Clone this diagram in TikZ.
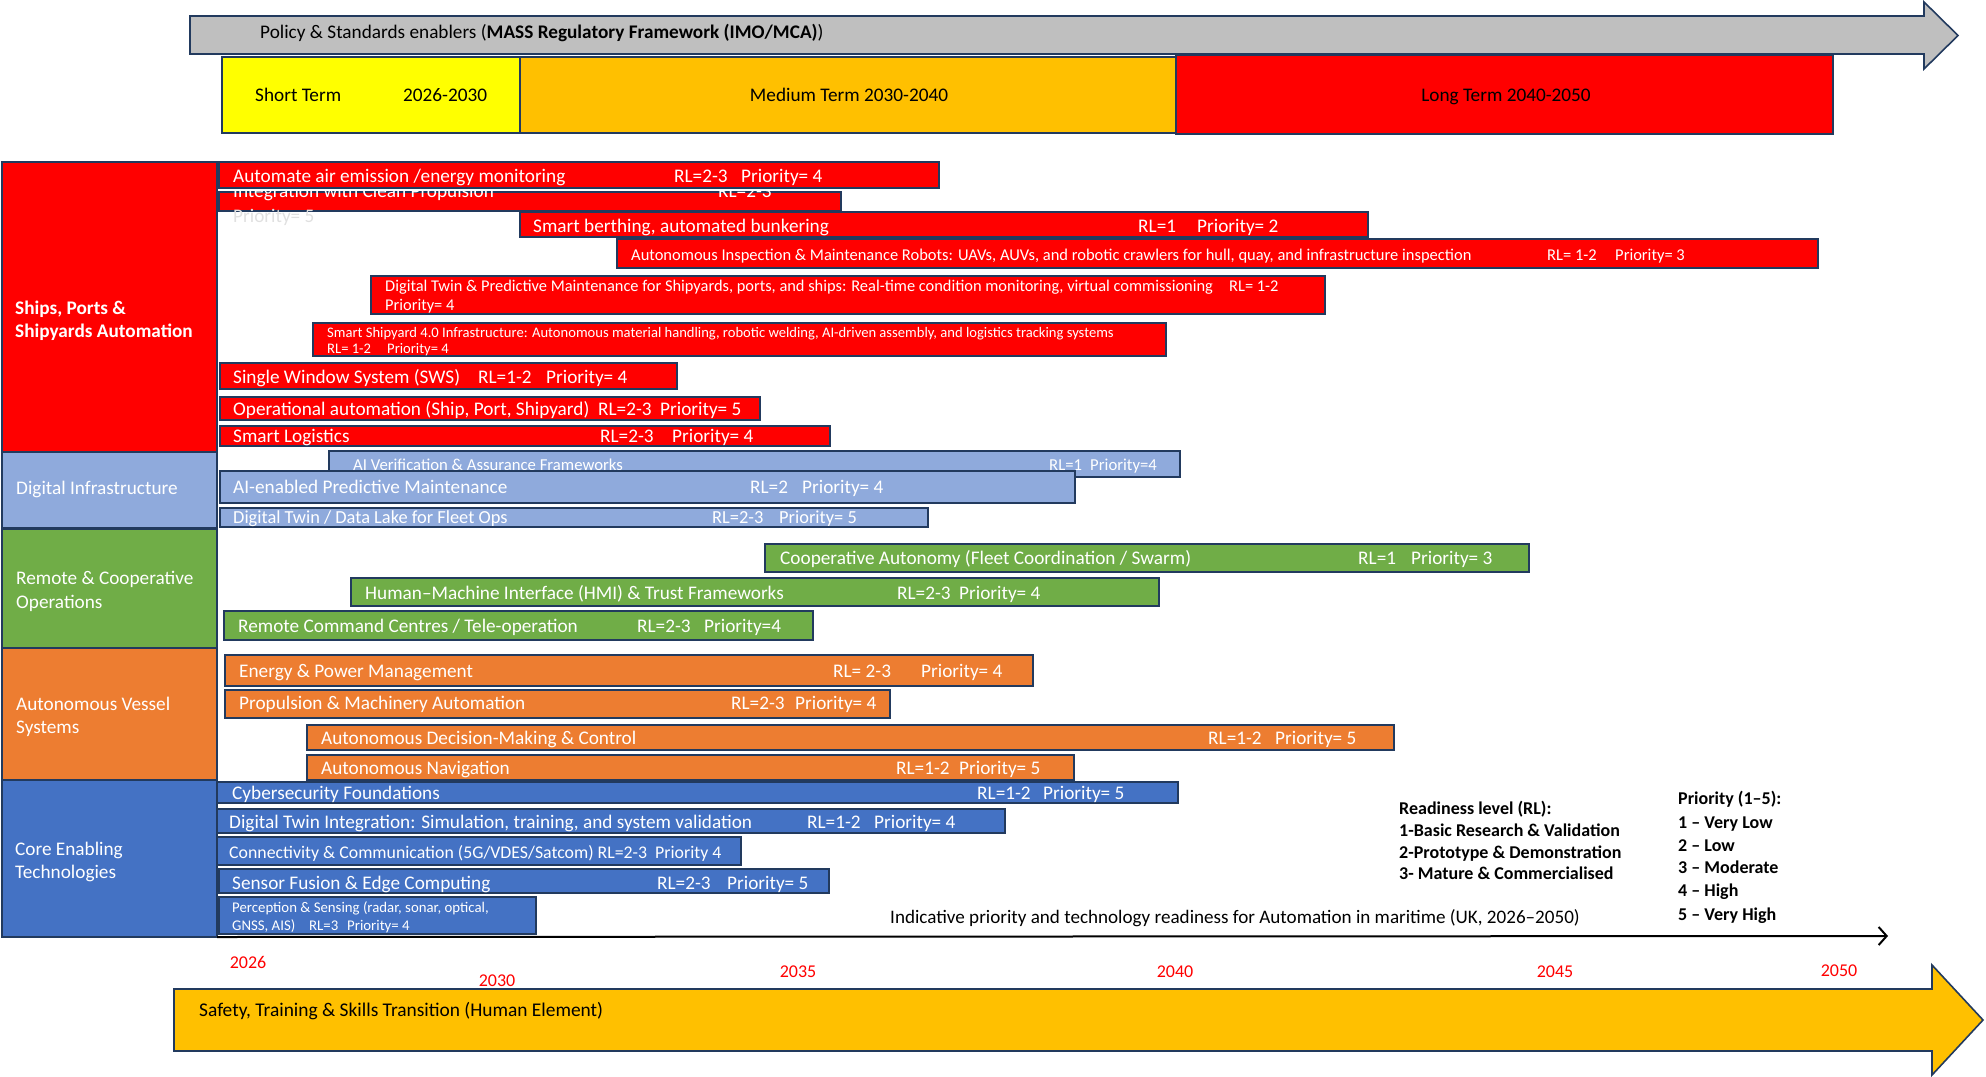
\documentclass[tikz,border=0pt]{standalone}
\usepackage{fontspec}
\setmainfont{Carlito}
\usetikzlibrary{arrows.meta}
\definecolor{navy}{HTML}{223A5E}
\definecolor{cred}{HTML}{FF0000}
\definecolor{clblue}{HTML}{8FAADC}
\definecolor{cgreen}{HTML}{70AD47}
\definecolor{corange}{HTML}{ED7D31}
\definecolor{cblue}{HTML}{4472C4}
\definecolor{cgold}{HTML}{FFC000}
\definecolor{cyellow}{HTML}{FFFF00}
\definecolor{cgray}{HTML}{BFBFBF}
\definecolor{cyear}{HTML}{FF0000}
\newcommand\myfs[1]{\fontsize{#1}{#1}\selectfont}
\tikzset{
  bar/.style={draw=navy, line width=1.6pt},
  tw/.style={text=white, anchor=base west, inner sep=0pt, font=\myfs{19.25}},
  tk/.style={text=black, anchor=base west, inner sep=0pt, font=\myfs{19.25}},
  lbl/.style={text=white, anchor=base west, inner sep=0pt, font=\myfs{19.25}},
  yr/.style={text=cyear, anchor=base, inner sep=0pt, font=\myfs{18}},
  leg/.style={text=black, anchor=base west, inner sep=0pt, font=\myfs{18}\bfseries},
}
\begin{document}
\begin{tikzpicture}[x=1pt,y=-1pt]
\useasboundingbox (0,0) rectangle (1986,1076);

% top policy arrow
\draw[bar, fill=cgray, line join=miter] (190,16) -- (1924,16) -- (1924,2) -- (1958,35.5) -- (1924,69) -- (1924,54) -- (190,54) -- cycle;
\node[tk] (policy) at (260,38) {Policy \& Standards enablers (\textbf{MASS Regulatory Framework (IMO/MCA)})};

% periods
\draw[bar, fill=cyellow] (222,57) rectangle (520,133);
\draw[bar, fill=cgold] (520,57) rectangle (1176,133);
\draw[bar, fill=cred] (1176,55) rectangle (1833,134);
\node[tk] (st) at (255,101) {Short Term};
\node[tk] (st2) at (403,101) {2026-2030};
\node[tk, anchor=base] (mt) at (849,101) {Medium Term 2030-2040};
\node[tk, anchor=base] (lt) at (1506,101) {Long Term 2040-2050};

% category column
\draw[bar, fill=cred] (2,162) rectangle (217,452);
\draw[bar, fill=clblue] (2,452) rectangle (217,528);
\draw[bar, fill=cgreen] (2,529) rectangle (217,648);
\draw[bar, fill=corange] (2,648) rectangle (217,780);
\draw[bar, fill=cblue] (2,780) rectangle (217,937);
\node[lbl, font=\myfs{19.25}\bfseries] (c1a) at (15,314) {Ships, Ports \&};
\node[lbl, font=\myfs{19.25}\bfseries] (c1b) at (15,337) {Shipyards Automation};
\node[lbl] (c2) at (16,494) {Digital Infrastructure};
\node[lbl] (c3a) at (16,584) {Remote \& Cooperative};
\node[lbl] (c3b) at (16,608) {Operations};
\node[lbl] (c4a) at (16,710) {Autonomous Vessel};
\node[lbl] (c4b) at (16,733) {Systems};
\node[lbl] (c5a) at (15,855) {Core Enabling};
\node[lbl] (c5b) at (15,878) {Technologies};

% ---- Ships, ports & shipyards bars
\draw[bar, fill=cred] (219,192) rectangle (841,211);
\node[tw] (b2a) at (233,197) {Integration with Clean Propulsion};
\node[tw] (b2b) at (718,197) {RL=2-3};
\node[tw, text=black!12] (b2c) at (233,222) {Priority= 5};
\draw[bar, fill=cred] (219,162) rectangle (939,188);
\node[tw] (b1a) at (233,182) {Automate air emission /energy monitoring};
\node[tw] (b1b) at (674,182) {RL=2-3};
\node[tw] (b1c) at (741,182) {Priority= 4};

\draw[bar, fill=cred] (520,212) rectangle (1368,237);
\node[tw] (b3a) at (533,232) {Smart berthing, automated bunkering};
\node[tw] (b3b) at (1138,232) {RL=1};
\node[tw] (b3c) at (1197,232) {Priority= 2};

\draw[bar, fill=cred] (617,239) rectangle (1818,268);
\node[tw, font=\myfs{16.5}] (b4a) at (631,260) {Autonomous Inspection \& Maintenance Robots: UAVs, AUVs, and robotic crawlers for hull, quay, and infrastructure inspection};
\node[tw, font=\myfs{16.5}] (b4b) at (1547,260) {RL= 1-2};
\node[tw, font=\myfs{16.5}] (b4c) at (1615,260) {Priority= 3};

\draw[bar, fill=cred] (371,276) rectangle (1325,314);
\node[tw, font=\myfs{16.4}] (b5a) at (385,291) {Digital Twin \& Predictive Maintenance for Shipyards, ports, and ships: Real-time condition monitoring, virtual commissioning};
\node[tw, font=\myfs{16.4}] (b5b) at (1229,291) {RL= 1-2};
\node[tw, font=\myfs{16.4}] (b5c) at (385,310) {Priority= 4};

\draw[bar, fill=cred] (313,323) rectangle (1166,356);
\node[tw, font=\myfs{14.6}] (b6a) at (327,337) {Smart Shipyard 4.0 Infrastructure: Autonomous material handling, robotic welding, AI-driven assembly, and logistics tracking systems};
\node[tw, font=\myfs{14.6}] (b6b) at (327,353) {RL= 1-2};
\node[tw, font=\myfs{14.6}] (b6c) at (387,353) {Priority= 4};

\draw[bar, fill=cred] (220,363) rectangle (677,389);
\node[tw] (b7a) at (233,383) {Single Window System (SWS)};
\node[tw] (b7b) at (478,383) {RL=1-2};
\node[tw] (b7c) at (546,383) {Priority= 4};

\draw[bar, fill=cred] (220,397) rectangle (760,420);
\node[tw] (b8a) at (233,415) {Operational automation (Ship, Port, Shipyard)};
\node[tw] (b8b) at (598,415) {RL=2-3};
\node[tw] (b8c) at (660,415) {Priority= 5};

\draw[bar, fill=cred] (220,426) rectangle (830,446);
\node[tw] (b9a) at (233,442) {Smart Logistics};
\node[tw] (b9b) at (600,442) {RL=2-3};
\node[tw] (b9c) at (672,442) {Priority= 4};

% ---- Digital infrastructure
\draw[bar, fill=clblue] (329,451) rectangle (1180,477);
\node[tw, font=\myfs{16.7}] (b10a) at (353,470) {AI Verification \& Assurance Frameworks};
\node[tw, font=\myfs{16.7}] (b10b) at (1049,470) {RL=1};
\node[tw, font=\myfs{16.7}] (b10c) at (1090,470) {Priority=4};

\draw[bar, fill=clblue] (220,471) rectangle (1075,503);
\node[tw] (b11a) at (233,493) {AI-enabled Predictive Maintenance};
\node[tw] (b11b) at (750,493) {RL=2};
\node[tw] (b11c) at (802,493) {Priority= 4};

\draw[bar, fill=clblue] (220,508) rectangle (928,527);
\node[tw, font=\myfs{18.4}] (b12a) at (233,523) {Digital Twin / Data Lake for Fleet Ops};
\node[tw, font=\myfs{18.4}] (b12b) at (712,523) {RL=2-3};
\node[tw, font=\myfs{18.4}] (b12c) at (779,523) {Priority= 5};

% ---- Remote & cooperative
\draw[bar, fill=cgreen] (765,544) rectangle (1529,572);
\node[tw] (b13a) at (780,564) {Cooperative Autonomy (Fleet Coordination / Swarm)};
\node[tw] (b13b) at (1358,564) {RL=1};
\node[tw] (b13c) at (1411,564) {Priority= 3};

\draw[bar, fill=cgreen] (351,578) rectangle (1159,606);
\node[tw] (b14a) at (365,599) {Human–Machine Interface (HMI) \& Trust Frameworks};
\node[tw] (b14b) at (897,599) {RL=2-3};
\node[tw] (b14c) at (959,599) {Priority= 4};

\draw[bar, fill=cgreen] (224,611) rectangle (813,640);
\node[tw] (b15a) at (238,632) {Remote Command Centres / Tele-operation};
\node[tw] (b15b) at (637,632) {RL=2-3};
\node[tw] (b15c) at (704,632) {Priority=4};

% ---- Autonomous vessel systems
\draw[bar, fill=corange] (225,655) rectangle (1033,686);
\node[tw] (b16a) at (239,677) {Energy \& Power Management};
\node[tw] (b16b) at (833,677) {RL= 2-3};
\node[tw] (b16c) at (921,677) {Priority= 4};

\draw[bar, fill=corange] (225,690) rectangle (890,718);
\node[tw] (b17a) at (239,709) {Propulsion \& Machinery Automation};
\node[tw] (b17b) at (731,709) {RL=2-3};
\node[tw] (b17c) at (795,709) {Priority= 4};

\draw[bar, fill=corange] (307,725) rectangle (1394,750);
\node[tw] (b18a) at (321,744) {Autonomous Decision-Making \& Control};
\node[tw] (b18b) at (1208,744) {RL=1-2};
\node[tw] (b18c) at (1275,744) {Priority= 5};

\draw[bar, fill=corange] (307,755) rectangle (1074,780);
\node[tw] (b19a) at (321,774) {Autonomous Navigation};
\node[tw] (b19b) at (896,774) {RL=1-2};
\node[tw] (b19c) at (959,774) {Priority= 5};

% ---- Core enabling technologies
\draw[bar, fill=cblue] (217,782) rectangle (1178,803);
\node[tw] (b20a) at (232,799) {Cybersecurity Foundations};
\node[tw] (b20b) at (977,799) {RL=1-2};
\node[tw] (b20c) at (1043,799) {Priority= 5};

\draw[bar, fill=cblue] (217,809) rectangle (1005,833);
\node[tw] (b21a) at (229,828) {Digital Twin Integration: Simulation, training, and system validation};
\node[tw] (b21b) at (807,828) {RL=1-2};
\node[tw] (b21c) at (874,828) {Priority= 4};

\draw[bar, fill=cblue] (217,837) rectangle (741,865);
\node[tw, font=\myfs{17.8}] (b22a) at (229,858) {Connectivity \& Communication (5G/VDES/Satcom) RL=2-3~~Priority 4};

\draw[bar, fill=cblue] (219,869) rectangle (829,893);
\node[tw] (b23a) at (232,889) {Sensor Fusion \& Edge Computing};
\node[tw] (b23b) at (657,889) {RL=2-3};
\node[tw] (b23c) at (727,889) {Priority= 5};

\draw[bar, fill=cblue] (219,897) rectangle (536,934);
\node[tw, font=\myfs{14.8}] (b24a) at (232,912) {Perception \& Sensing (radar, sonar, optical,};
\node[tw, font=\myfs{14.8}] (b24b) at (232,930) {GNSS, AIS)};
\node[tw, font=\myfs{14.8}] (b24c) at (309,930) {RL=3};
\node[tw, font=\myfs{14.8}] (b24d) at (347,930) {Priority= 4};

% axis
\coordinate (ax0) at (217,937);
\coordinate (ax1) at (1888,936);
\draw[line width=2pt, -{Straight Barb[length=8pt,width=18pt,line width=2pt]}] (ax0) -- (ax1);

\node[tk, font=\myfs{19.1}] (cap) at (890,923) {Indicative priority and technology readiness for Automation in maritime (UK, 2026–2050)};

% legends
\node[leg] (r0) at (1399,814) {Readiness level (RL):};
\node[leg] (r1) at (1399,836) {1-Basic Research \& Validation};
\node[leg] (r2) at (1399,858) {2-Prototype \& Demonstration};
\node[leg] (r3) at (1399,879) {3- Mature \& Commercialised};
\node[leg] (p0) at (1678,804) {Priority (1–5):};
\node[leg] (p1) at (1678,828) {1 – Very Low};
\node[leg] (p2) at (1678,851) {2 – Low};
\node[leg] (p3) at (1678,873) {3 – Moderate};
\node[leg] (p4) at (1678,896) {4 – High};
\node[leg] (p5) at (1678,920) {5 – Very High};

% years
\node[yr] (y26) at (248,968) {2026};
\node[yr] (y30) at (497,986) {2030};
\node[yr] (y35) at (798,977) {2035};
\node[yr] (y40) at (1175,977) {2040};
\node[yr] (y45) at (1555,977) {2045};
\node[yr] (y50) at (1839,976) {2050};

% bottom safety arrow
\draw[bar, fill=cgold, line join=miter] (174,989) -- (1932,989) -- (1932,965) -- (1983,1020) -- (1932,1075) -- (1932,1051) -- (174,1051) -- cycle;
\node[tk, font=\myfs{19.4}] (safety) at (199,1016) {Safety, Training \& Skills Transition (Human Element)};
\end{tikzpicture}
\end{document}
